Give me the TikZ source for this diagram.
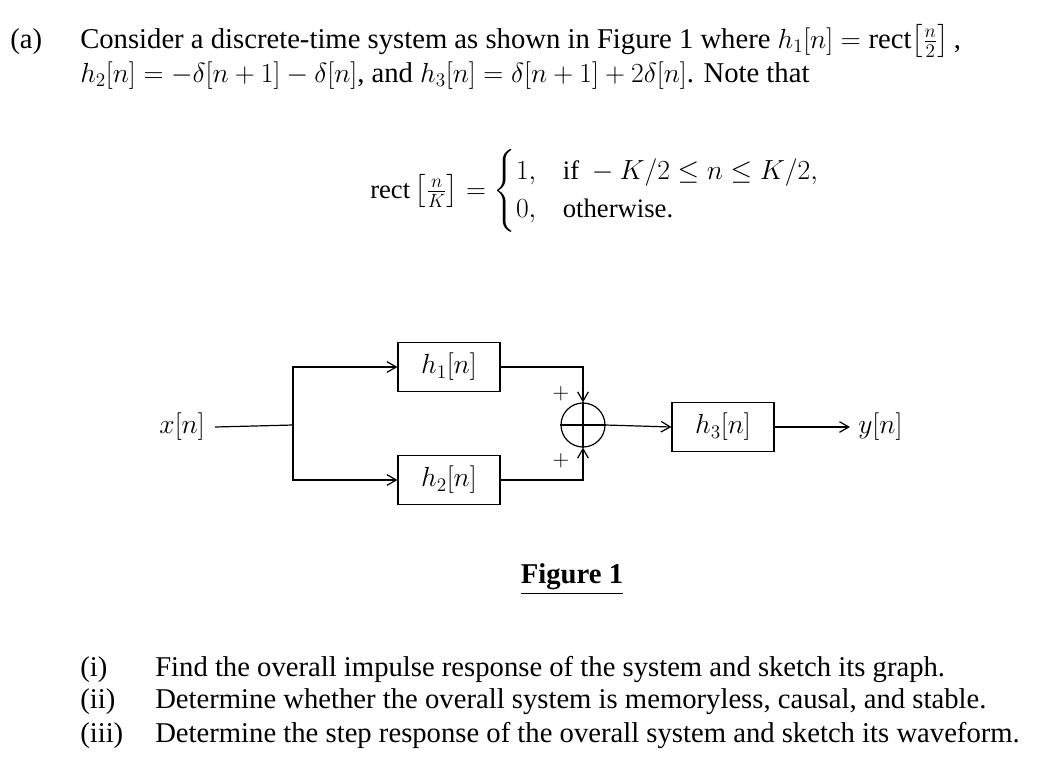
\documentclass[tikz,border=0pt]{standalone}
\usepackage{amsmath}
\usepackage{fontspec}
\setmainfont{Liberation Serif}
\usetikzlibrary{arrows.meta}
\begin{document}
\begin{tikzpicture}[x=0.75pt,y=-0.75pt,
  txt/.style={anchor=base west,inner sep=0pt,font=\fontsize{21.5}{25}\selectfont},
  blk/.style={draw,line width=0.8pt,minimum width=76.5pt,minimum height=37pt,inner sep=0pt,font=\fontsize{22}{25}\selectfont},
  wire/.style={line width=0.9pt},
  arr/.style={wire,-{Straight Barb[length=7pt,width=8pt]}}]
\useasboundingbox (0,0) rectangle (1039,765);
\node[txt] (a) at (10,48) {(a)};
\node[txt] (l1) at (80,48) {Consider a discrete-time system as shown in Figure 1 where $h_1[n]=\mathrm{rect}\bigl[\frac{n}{2}\bigr]$\,,};
\node[txt] (l2) at (80,82) {$h_2[n]=-\delta[n+1]-\delta[n]$, and $h_3[n]=\delta[n+1]+2\delta[n]$. Note that};
\node[txt,font=\fontsize{20}{24}\selectfont] (eq) at (370,198) {$\mathrm{rect}\left[\frac{n}{K}\right]=\begin{cases}1, & \text{if } -K/2\le n\le K/2,\\ 0, & \text{otherwise.}\end{cases}$};
% diagram
\node[blk] (h1) at (449,367) {$h_1[n]$};
\node[blk] (h2) at (449,480) {$h_2[n]$};
\node[blk] (h3) at (723,427) {$h_3[n]$};
\node[draw,circle,line width=0.9pt,minimum width=30pt,minimum height=33pt,inner sep=0pt] (s) at (583,425) {};
\draw[wire] (s.west) -- (s.east) (s.north) -- (s.south);
\node[txt,anchor=east,font=\fontsize{22}{25}\selectfont] (x) at (205,427) {$x[n]$};
\node[txt,anchor=west,font=\fontsize{22}{25}\selectfont] (y) at (858,427) {$y[n]$};
\node[font=\fontsize{17}{20}\selectfont] (p1) at (561,394) {$+$};
\node[font=\fontsize{17}{20}\selectfont] (p2) at (561,461) {$+$};
\coordinate (sp) at (293,425);
\draw[wire] (x.east) ++(10,0) -- (sp);
\draw[arr] (sp) |- (h1.west);
\draw[arr] (sp) |- (h2.west);
\draw[arr] (h1.east) -| (s.north);
\draw[arr] (h2.east) -| (s.south);
\draw[arr] (s.east) -- (h3.west);
\draw[arr] (h3.east) -- ([xshift=-6pt]y.west);
\node[txt,anchor=base,font=\fontsize{21.5}{25}\selectfont\bfseries] (fig) at (572,583) {\underline{Figure 1}};
\node[txt] (i1) at (80,676) {(i)};
\node[txt] (t1) at (155,676) {Find the overall impulse response of the system and sketch its graph.};
\node[txt] (i2) at (80,708) {(ii)};
\node[txt] (t2) at (155,708) {Determine whether the overall system is memoryless, causal, and stable.};
\node[txt] (i3) at (80,742) {(iii)};
\node[txt] (t3) at (155,742) {Determine the step response of the overall system and sketch its waveform.};
\end{tikzpicture}
\end{document}
